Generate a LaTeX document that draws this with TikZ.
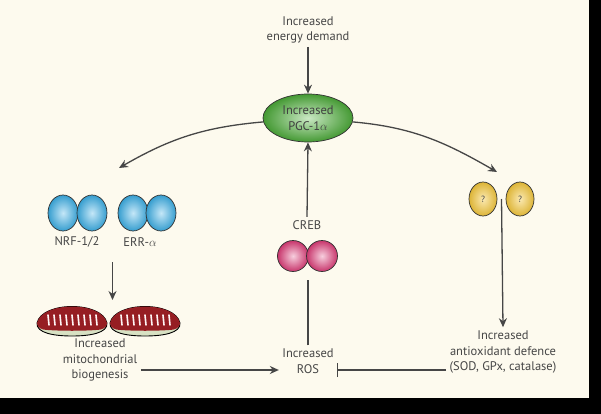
\documentclass[tikz,border=0pt]{standalone}
\usepackage{fontspec}
\setmainfont{PT Sans}
\usetikzlibrary{shadings,arrows.meta,shapes.geometric,calc}
\definecolor{paper}{RGB}{253,250,238}
\definecolor{ink}{RGB}{70,70,70}
\definecolor{bluef}{RGB}{60,175,230}
\definecolor{pinkf}{RGB}{222,60,120}
\definecolor{yellowf}{RGB}{245,200,60}
\definecolor{greenf}{RGB}{80,180,60}
\definecolor{mitored}{RGB}{150,30,35}
\definecolor{mitogreen}{RGB}{215,225,195}
\begin{document}
\begin{tikzpicture}
		[x=1pt, y=-1pt,
		label text/.style={text=ink, align=center, font=\fontsize{12.5}{15.5}\selectfont},
		ball/.style={ellipse, draw=black!80, line width=0.7pt, minimum width=#1, inner sep=0pt},
		blue ball/.style={ball=30pt, minimum height=36pt, inner color=bluef!30, outer color=bluef!90!black},
		pink ball/.style={ball=31pt, minimum height=31pt, inner color=pinkf!25, outer color=pinkf!90!black},
		yellow ball/.style={ball=28pt, minimum height=34pt, inner color=yellowf!40, outer color=yellowf!90!black, font=\small, text=ink},
		link/.style={draw=ink, line width=1.3pt, -{Stealth[length=9pt, width=8pt]}},
		block/.style={draw=ink, line width=1.3pt, -{Bar[width=14pt]}}]
		\fill[black] (0,0) rectangle (601,414);
		\fill[paper] (0,0) rectangle (589,398);

		\node[label text] (demand) at (308,30) {Increased\\energy demand};
		\node[ellipse, draw=black!80, line width=0.7pt, minimum width=90pt, minimum height=48pt, inner sep=0pt,
			inner color=greenf!30, outer color=greenf!85!black, label text, text=black!75] (pgc) at (308,118) {Increased\\PGC-1$\alpha$};

		% transcription factors
		\foreach \n/\x in {nrfa/63, nrfb/92, erra/133, errb/161}{
			\node[blue ball] (\n) at (\x,213) {};
		}
		\node[label text] (nrf) at (77,242) {NRF-1/2};
		\node[label text] (err) at (140,242) {ERR-$\alpha$};
		\foreach \n/\x in {creba/293, crebb/322}{
			\node[pink ball] (\n) at (\x,256) {};
		}
		\node[label text] (creb) at (307,225) {CREB};
		\foreach \n/\x in {qa/483, qb/520}{
			\node[yellow ball] (\n) at (\x,199) {?};
		}

		% mitochondria
		\foreach \n/\x in {mita/72, mitb/145}{
			\begin{scope}[shift={(\x,323)}]
				\fill[mitogreen, draw=black, line width=0.9pt] (-35,0) .. controls (-30,-22) and (30,-22) .. (35,0)
					.. controls (36,10) and (18,13) .. (0,13) .. controls (-18,13) and (-36,10) .. (-35,0) -- cycle;
				\fill[mitored] (-35,0) .. controls (-30,-22) and (30,-22) .. (35,0)
					.. controls (35,5) and (30,7) .. (24,7) .. controls (10,8) and (-10,8) .. (-24,7)
					.. controls (-30,7) and (-35,5) .. (-35,0) -- cycle;
				\foreach \c in {-24,-18,...,24}{
					\draw[white!85!pink, line width=1.6pt, line cap=round] (\c,-8) -- (\c+1,2);
				}
				\node[inner sep=0pt, minimum width=70pt, minimum height=28pt] (\n) at (0,0) {};
			\end{scope}
		}
		\node[label text] (bio) at (100,360) {Increased\\mitochondrial\\biogenesis};
		\node[label text] (ros) at (308,361) {Increased\\ROS};
		\node[label text] (anti) at (503,352) {Increased\\antioxidant defence\\(SOD, GPx, catalase)};

		\coordinate (left end) at (119,168);
		\coordinate (right end) at (497,172);
		\coordinate (fork) at ($(nrfb)!0.5!(erra)$);
		\draw[link] (demand) -- (pgc);
		\draw[link] (pgc.185) to[out=185, in=30] (left end);
		\draw[link] (pgc.-5) to[out=-5, in=150] (right end);
		\draw[link] (fork |- 0,262) -- (fork |- 0,300);
		\draw[link] (bio.east |- 0,370) -- (ros.west |- 0,370);
		\draw[draw=ink, line width=1.3pt] (ros.north) -- (ros |- 0,280);
		\draw[link] (creb.north) -- (pgc.south);
		\draw[link] ($(qa)!0.5!(qb)$ |- 0,227) -- (anti.north);
		\draw[block] (anti.west |- 0,370) -- (ros.east |- 0,370);
\end{tikzpicture}
\end{document}
